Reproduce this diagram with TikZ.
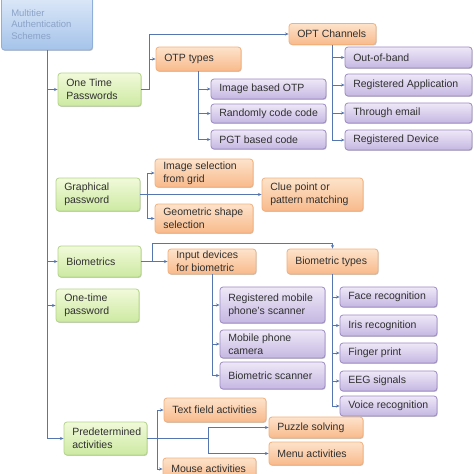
\documentclass[tikz,border=0pt]{standalone}
\usepackage{fontspec}
\setmainfont{Liberation Sans}
\usetikzlibrary{arrows.meta,shadows}
\definecolor{lnc}{HTML}{5676B0}
\definecolor{txc}{HTML}{303030}
\definecolor{roottx}{HTML}{8CA3C8}
\definecolor{gtop}{HTML}{F1FADA}
\definecolor{gbot}{HTML}{CDE9A2}
\definecolor{gbrd}{HTML}{B3D488}
\definecolor{otop}{HTML}{FDE3CB}
\definecolor{obot}{HTML}{F8BA8B}
\definecolor{obrd}{HTML}{F2B07C}
\definecolor{ptop}{HTML}{EEE8F7}
\definecolor{pbot}{HTML}{C5B7E2}
\definecolor{pbrd}{HTML}{9C8AC2}
\definecolor{btop}{HTML}{DCE8F8}
\definecolor{bbot}{HTML}{A5C3EA}
\definecolor{bbrd}{HTML}{8FAEDA}
\tikzset{
  boxbase/.style={rectangle, rounded corners=3pt, line width=0.8pt, inner sep=0pt,
    drop shadow={shadow xshift=0.7pt, shadow yshift=-0.9pt, opacity=0.22, fill=black}},
  gbox/.style={boxbase, draw=gbrd, top color=gtop, bottom color=gbot},
  obox/.style={boxbase, draw=obrd, top color=otop, bottom color=obot},
  pbox/.style={boxbase, draw=pbrd, top color=ptop, bottom color=pbot},
  rbox/.style={boxbase, draw=bbrd, top color=btop, bottom color=bbot},
  txt/.style={anchor=west, align=left, inner sep=0pt, text=txc,
    font=\fontsize{10.5}{12.6}\selectfont},
  roottxt/.style={anchor=west, align=left, inner sep=0pt, text=roottx,
    font=\fontsize{9.5}{11.5}\selectfont},
  ln/.style={draw=lnc, line width=0.7pt},
  arr/.style={ln, -{Stealth[length=3.6pt, width=3pt]}}
}
\newcommand\mkbox[7]{%
  \node[#1, minimum width=#5pt, minimum height=#6pt] (#2) at (#3,#4) {};
  \node[txt] (#2-t) at ([xshift=8.5pt]#2.west) {#7};
}
\begin{document}
\begin{tikzpicture}[x=1pt, y=-1pt]
\useasboundingbox (0,0) rectangle (474,474);
\clip (0,0) rectangle (474,474);
\fill[white] (0,0) rectangle (474,474);

% root
\node[rbox, minimum width=91pt, minimum height=53pt] (root) at (47,23.5) {};
\node[roottxt] (root-t) at ([xshift=10pt, yshift=-1pt]root.west) {Multitier\\Authentication\\Schemes};

% green level
\mkbox{gbox}{otp}{99.5}{89.5}{83}{33}{One Time\\Passwords}
\mkbox{gbox}{graph}{98}{194.5}{84}{33}{Graphical\\password}
\mkbox{gbox}{bio}{99.5}{261.5}{83}{31}{Biometrics}
\mkbox{gbox}{onet}{97.5}{305.5}{83}{33}{One-time\\password}
\mkbox{gbox}{pred}{105.5}{438.5}{83}{33}{Predetermined\\activities}

% OTP branch
\mkbox{obox}{otptypes}{198.5}{59}{85}{24}{OTP types}
\mkbox{obox}{optch}{332.5}{34}{87}{21}{OPT Channels}
\mkbox{pbox}{imgotp}{268.5}{89}{115}{20}{Image based OTP}
\mkbox{pbox}{rand}{268.5}{113.5}{115}{19}{Randomly code code}
\mkbox{pbox}{pgt}{268.5}{139.5}{115}{19}{PGT based code}
\mkbox{pbox}{oob}{408.5}{57.5}{127}{21}{Out-of-band}
\mkbox{pbox}{regapp}{408.5}{85}{127}{22}{Registered Application}
\mkbox{pbox}{email}{408.5}{113}{127}{20}{Through email}
\mkbox{pbox}{regdev}{408.5}{140}{127}{20}{Registered Device}

% Graphical branch
\mkbox{obox}{imgsel}{204}{173}{98}{28}{Image selection\\from grid}
\mkbox{obox}{geo}{204}{218.5}{98}{29}{Geometric shape\\selection}
\mkbox{obox}{clue}{312.5}{194.5}{101}{33}{Clue point or\\pattern matching}

% Biometrics branch
\mkbox{obox}{inputdev}{212}{261.5}{88}{25}{Input devices\\for biometric}
\mkbox{obox}{biotypes}{332.5}{261.5}{91}{25}{Biometric types}
\mkbox{pbox}{regmob}{272.5}{305}{105}{36}{Registered mobile\\phone's scanner}
\mkbox{pbox}{mobcam}{272.5}{344}{105}{28}{Mobile phone\\camera}
\mkbox{pbox}{bioscan}{272.5}{375.5}{105}{27}{Biometric scanner}
\mkbox{pbox}{face}{388.5}{297}{97}{20}{Face recognition}
\mkbox{pbox}{iris}{388.5}{325.5}{97}{21}{Iris recognition}
\mkbox{pbox}{finger}{388.5}{353}{97}{20}{Finger print}
\mkbox{pbox}{eeg}{388.5}{381}{97}{20}{EEG signals}
\mkbox{pbox}{voice}{388.5}{406}{97}{20}{Voice recognition}

% Predetermined branch
\mkbox{obox}{textfield}{215}{410}{102}{24}{Text field activities}
\mkbox{obox}{mouse}{209.5}{469}{93}{22}{Mouse activities}
\mkbox{obox}{puzzle}{316}{427.5}{94}{21}{Puzzle solving}
\mkbox{obox}{menu}{316}{453.5}{94}{23}{Menu activities}

% ---- connectors ----
% trunk
\draw[arr] (root.south) |- (pred.west);
\draw[arr] (root.south |- otp.west) -- (otp.west);
\draw[arr] (root.south |- bio.west) -- (bio.west);
\draw[arr] (root.south |- onet.west) -- (onet.west);

% OTP
\coordinate (j1) at (149,89.5);
\draw[ln] (otp.east) -- (j1);
\draw[arr] (j1) |- (optch.west);
\draw[arr] (j1 |- otptypes.west) -- (otptypes.west);
\draw[arr] (otptypes.south) |- (pgt.west);
\draw[arr] (otptypes.south |- imgotp.west) -- (imgotp.west);
\draw[arr] (otptypes.south |- rand.west) -- (rand.west);
\draw[arr] (optch.south) |- (regdev.west);
\draw[arr] (optch.south |- oob.west) -- (oob.west);
\draw[arr] (optch.south |- regapp.west) -- (regapp.west);
\draw[arr] (optch.south |- email.west) -- (email.west);

% Graphical
\coordinate (j2) at (147,194.5);
\draw[arr] (graph.east) -- (clue.west);
\draw[arr] (j2) |- (imgsel.west);
\draw[arr] (j2) |- (geo.west);

% Biometrics
\coordinate (j3) at (152,261.5);
\coordinate (j4) at (332.5,243);
\draw[arr] (bio.east) -- (inputdev.west);
\draw[arr] (j3) |- (j4) -- (biotypes.north);
\draw[arr] (inputdev.south) |- (bioscan.west);
\draw[arr] (inputdev.south |- regmob.west) -- (regmob.west);
\draw[arr] (inputdev.south |- mobcam.west) -- (mobcam.west);
\draw[arr] (biotypes.south) |- (voice.west);
\draw[arr] (biotypes.south |- face.west) -- (face.west);
\draw[arr] (biotypes.south |- iris.west) -- (iris.west);
\draw[arr] (biotypes.south |- finger.west) -- (finger.west);
\draw[arr] (biotypes.south |- eeg.west) -- (eeg.west);

% Predetermined
\coordinate (j5) at (157,438.5);
\coordinate (j6) at (208,438.5);
\draw[ln] (pred.east) -- (j6);
\draw[arr] (j5) |- (textfield.west);
\draw[arr] (j5) |- (mouse.west);
\draw[arr] (j6) |- (puzzle.west);
\draw[arr] (j6) |- (menu.west);
\end{tikzpicture}
\end{document}
